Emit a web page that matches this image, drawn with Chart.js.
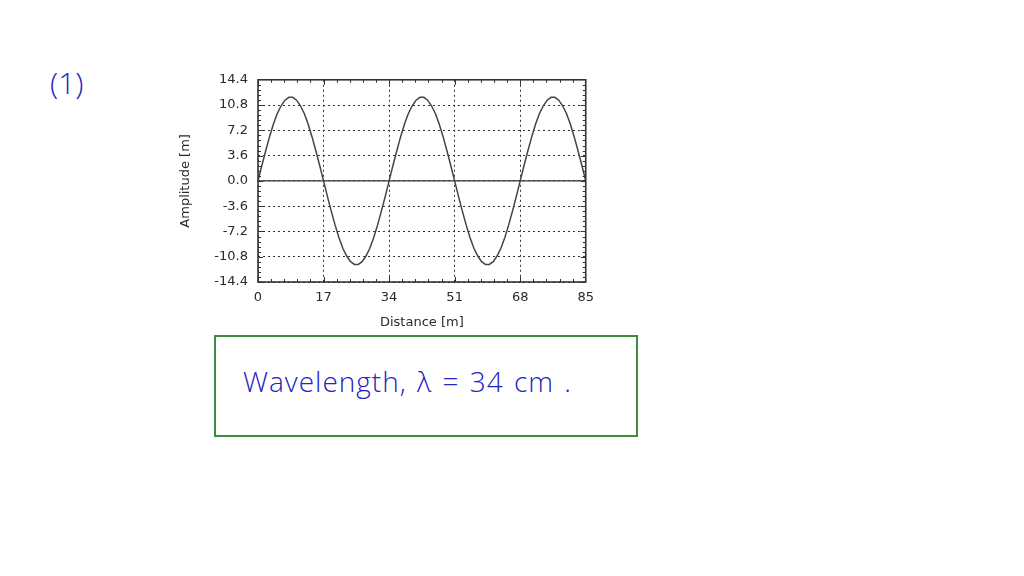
<!DOCTYPE html>
<html>
<head>
<meta charset="utf-8">
<script src="https://cdn.jsdelivr.net/npm/chart.js@4"></script>
<style>
    body { margin: 0; background: #fff; width: 1024px; height: 576px; position: relative; overflow: hidden; }
    #wave { position: absolute; left: 168px; top: 62px; }
    .hand { position: absolute; color: #2323c4; font-family: "Open Sans", sans-serif; font-weight: 300; }
    #num { left: 50px; top: 62px; font-size: 30px; }
    #box { position: absolute; left: 214px; top: 335px; width: 420px; height: 98px; border: 2px solid #3d8b3d; }
    #note { left: 243px; top: 362px; font-size: 28px; letter-spacing: 1px; word-spacing: 2px; }
</style>
</head>
<body>
<div class="hand" id="num">(1)</div>
<div id="box"></div>
<div class="hand" id="note">Wavelength, λ = 34 cm .</div>
<canvas id="wave" width="434" height="278"></canvas>
<script>
// distance along the wave [m]
const distance = [
    0, 1, 2, 3, 4, 5, 6, 7, 8, 9, 10, 11, 12, 13, 14, 15, 16, 17,
    18, 19, 20, 21, 22, 23, 24, 25, 26, 27, 28, 29, 30, 31, 32, 33, 34,
    35, 36, 37, 38, 39, 40, 41, 42, 43, 44, 45, 46, 47, 48, 49, 50, 51,
    52, 53, 54, 55, 56, 57, 58, 59, 60, 61, 62, 63, 64, 65, 66, 67, 68,
    69, 70, 71, 72, 73, 74, 75, 76, 77, 78, 79, 80, 81, 82, 83, 84, 85
];

// amplitude [m]
const amplitude = [
    0, 2.2, 4.3, 6.3, 8.1, 9.6, 10.7, 11.5, 11.9, 11.9, 11.5, 10.7, 9.6, 8.1, 6.3, 4.3, 2.2, 0,
    -2.2, -4.3, -6.3, -8.1, -9.6, -10.7, -11.5, -11.9, -11.9, -11.5, -10.7, -9.6, -8.1, -6.3, -4.3, -2.2, 0,
    2.2, 4.3, 6.3, 8.1, 9.6, 10.7, 11.5, 11.9, 11.9, 11.5, 10.7, 9.6, 8.1, 6.3, 4.3, 2.2, 0,
    -2.2, -4.3, -6.3, -8.1, -9.6, -10.7, -11.5, -11.9, -11.9, -11.5, -10.7, -9.6, -8.1, -6.3, -4.3, -2.2, 0,
    2.2, 4.3, 6.3, 8.1, 9.6, 10.7, 11.5, 11.9, 11.9, 11.5, 10.7, 9.6, 8.1, 6.3, 4.3, 2.2, 0
];

const xTicks = [0, 17, 34, 51, 68, 85];
const yTicks = [-14.4, -10.8, -7.2, -3.6, 0, 3.6, 7.2, 10.8, 14.4];
const minorPerMajor = 5;

const points = distance.map((d, i) => ({ x: d, y: amplitude[i] }));
const zeroLine = [{ x: xTicks[0], y: 0 }, { x: xTicks[xTicks.length - 1], y: 0 }];

// frame and small inward ticks round the plot area, like gnuplot
const frame = {
    id: "frame",
    afterDraw(chart) {
        const a = chart.chartArea;
        const ctx = chart.ctx;
        const xs = chart.scales.x;
        const ys = chart.scales.y;
        ctx.save();
        ctx.strokeStyle = "#333";
        ctx.lineWidth = 1;
        ctx.beginPath();
        for (let i = 0; i < xTicks.length - 1; i++) {
            const step = (xTicks[i + 1] - xTicks[i]) / minorPerMajor;
            for (let k = 0; k < minorPerMajor; k++) {
                const px = Math.round(xs.getPixelForValue(xTicks[i] + k * step)) + 0.5;
                const len = k === 0 ? 5 : 3;
                ctx.moveTo(px, a.bottom); ctx.lineTo(px, a.bottom - len);
                ctx.moveTo(px, a.top); ctx.lineTo(px, a.top + len);
            }
        }
        for (let i = 0; i < yTicks.length - 1; i++) {
            const step = (yTicks[i + 1] - yTicks[i]) / minorPerMajor;
            for (let k = 0; k < minorPerMajor; k++) {
                const py = Math.round(ys.getPixelForValue(yTicks[i] + k * step)) + 0.5;
                const len = k === 0 ? 5 : 3;
                ctx.moveTo(a.left, py); ctx.lineTo(a.left + len, py);
                ctx.moveTo(a.right, py); ctx.lineTo(a.right - len, py);
            }
        }
        ctx.stroke();
        ctx.lineWidth = 1.6;
        ctx.strokeRect(a.left, a.top, a.right - a.left, a.bottom - a.top);
        ctx.restore();
    },
};

const font = { family: "DejaVu Sans", size: 13 };

new Chart(document.getElementById("wave"), {
    type: "line",
    data: {
        datasets: [
            {
                data: points,
                borderColor: "#444",
                borderWidth: 1.5,
                pointRadius: 0,
                tension: 0,
            },
            {
                data: zeroLine,
                borderColor: "#333",
                borderWidth: 1.4,
                pointRadius: 0,
            },
        ],
    },
    options: {
        responsive: false,
        animation: false,
        layout: { padding: { left: 0, top: 2, right: 12, bottom: 0 } },
        plugins: { legend: { display: false }, tooltip: { enabled: false } },
        scales: {
            x: {
                type: "linear",
                min: 0,
                max: 85,
                afterBuildTicks: (s) => { s.ticks = xTicks.map((v) => ({ value: v })); },
                afterFit: (s) => { s.height = 58; },
                ticks: { font: font, color: "#2a2a2a", padding: 8, maxRotation: 0 },
                grid: { color: "#333", lineWidth: 1, drawTicks: false },
                border: { display: false, dash: [2, 3] },
                title: { display: true, text: "Distance [m]", font: font, color: "#2a2a2a", padding: { top: 0, bottom: 10 } },
            },
            y: {
                min: -14.4,
                max: 14.4,
                afterBuildTicks: (s) => { s.ticks = yTicks.map((v) => ({ value: v })); },
                afterFit: (s) => { s.width = 90; },
                ticks: { font: font, color: "#2a2a2a", padding: 10, callback: (v) => v.toFixed(1) },
                grid: { color: "#333", lineWidth: 1, drawTicks: false },
                border: { display: false, dash: [2, 3] },
                title: { display: true, text: "Amplitude [m]", font: font, color: "#2a2a2a", padding: { top: 10, bottom: 0 } },
            },
        },
    },
    plugins: [frame],
});
</script>
</body>
</html>
